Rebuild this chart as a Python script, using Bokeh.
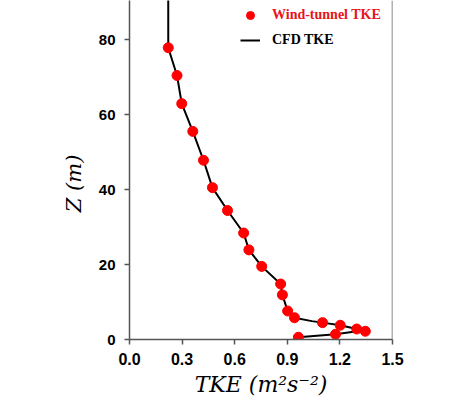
from bokeh.plotting import figure
from bokeh.models import Legend, LegendItem, Span, FixedTicker, NumeralTickFormatter, Range1d
from bokeh.embed import file_html
from bokeh.resources import INLINE

# Wind-tunnel measurements
wt_tke = [0.221, 0.271, 0.298, 0.361, 0.422, 0.473, 0.559, 0.651, 0.681, 0.754,
          0.862, 0.872, 0.902, 0.941, 1.101, 1.202, 1.296, 1.345, 1.175, 0.963]
wt_z = [77.8, 70.4, 62.9, 55.5, 47.8, 40.5, 34.4, 28.4, 23.9, 19.5,
        14.8, 11.9, 7.6, 5.8, 4.5, 3.8, 2.8, 2.2, 1.4, 0.6]

# CFD profile
cfd_tke = [0.221, 0.221, 0.271, 0.298, 0.361, 0.422, 0.473, 0.559, 0.651, 0.681, 0.754,
           0.862, 0.872, 0.902, 0.941, 1.040, 1.101, 1.202, 1.296, 1.330, 1.175, 0.963]
cfd_z = [92.0, 77.8, 70.4, 62.9, 55.5, 47.8, 40.5, 34.4, 28.4, 23.9, 19.5,
         14.8, 11.9, 7.6, 5.8, 4.9, 4.5, 3.8, 2.8, 2.4, 1.4, 0.6]

x_ticks = [0.0, 0.3, 0.6, 0.9, 1.2, 1.5]
y_ticks = [0, 20, 40, 60, 80]

p = figure(frame_width=263, frame_height=339, output_backend="svg", toolbar_location=None,
           x_range=Range1d(0, 1.5), y_range=Range1d(0, 90.4),
           min_border_left=129, min_border_top=0, min_border_right=40, min_border_bottom=10)
p.outline_line_color = None
p.xgrid.visible = False
p.ygrid.visible = False

cfd = p.line(cfd_tke, cfd_z, line_color="black", line_width=2)
wt = p.scatter(wt_tke, wt_z, size=10, fill_color="#FF0000", line_color="#FF0000")

p.add_layout(Span(location=1.5, dimension="height", line_color="#666666", line_width=1.5))

for ax in (p.xaxis[0], p.yaxis[0]):
    ax.axis_line_color = "#555555"
    ax.axis_line_width = 1.5
    ax.major_tick_line_color = "#555555"
    ax.major_tick_line_width = 1.5
    ax.major_tick_out = 5
    ax.major_tick_in = 0
    ax.minor_tick_line_color = None
    ax.major_label_text_font = "Liberation Sans"
    ax.major_label_text_font_style = "bold"
    ax.major_label_text_color = "black"
    ax.axis_label_text_font = "DejaVu Serif"
    ax.axis_label_text_font_style = "italic"
    ax.axis_label_text_color = "black"

p.xaxis.ticker = FixedTicker(ticks=x_ticks)
p.xaxis.formatter = NumeralTickFormatter(format="0.0")
p.xaxis.major_label_text_font_size = "16px"
p.xaxis.major_label_standoff = 8
p.xaxis.axis_label = "\u00a0TKE  (m²s⁻²)"
p.xaxis.axis_label_text_font_size = "22px"
p.xaxis.axis_label_standoff = 4

p.yaxis.ticker = FixedTicker(ticks=y_ticks)
p.yaxis.major_label_text_font_size = "15px"
p.yaxis.major_label_standoff = 9
p.yaxis.axis_label = "Z (m)\u00a0\u00a0\u00a0\u00a0"
p.yaxis.axis_label_text_font_size = "21px"
p.yaxis.axis_label_standoff = 10

def make_legend(item, color, loc):
    lg = Legend(items=[item], location=loc, orientation="vertical",
                label_text_font="Liberation Serif", label_text_font_style="bold",
                label_text_font_size="14px", label_text_color=color,
                glyph_width=20, glyph_height=20, label_standoff=12,
                padding=0, margin=0, spacing=0, border_line_color=None,
                background_fill_alpha=0)
    return lg

p.add_layout(make_legend(LegendItem(label="Wind-tunnel TKE", renderers=[wt]), "#E8141C", (111, 314)))
p.add_layout(make_legend(LegendItem(label="CFD TKE", renderers=[cfd]), "black", (111, 289)))

open("out.html", "w").write(file_html(p, INLINE))
